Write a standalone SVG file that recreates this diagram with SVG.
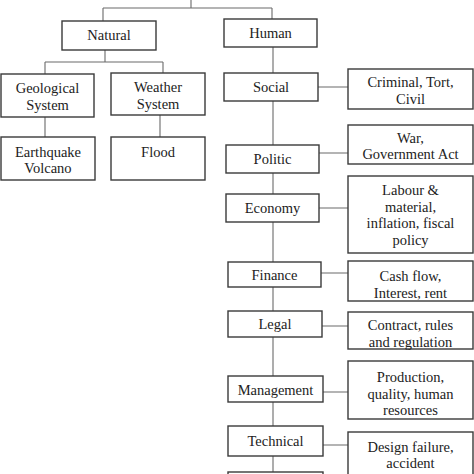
<svg xmlns="http://www.w3.org/2000/svg" width="474" height="474" viewBox="0 0 474 474">
<style>
.b{fill:#fff;stroke:#3a3a3a;stroke-width:1.4}
.c{fill:none;stroke:#6a6a6a;stroke-width:1.1}
text{font-family:"Liberation Serif","Times New Roman",serif;font-size:14.5px;fill:#222;text-anchor:middle}
</style>
<rect width="474" height="474" fill="#fff"/>
<g id="connectors">
<path class="c" d="M191 0V8M103 8H272M103 8V21M272 8V19"/>
<path class="c" d="M105 50V62M45 62H163M45 62V74M163 62V73M45 117V137M160 115V137"/>
<path class="c" d="M273 47V474"/>
<path class="c" d="M318 87H348M319 153H348M319 208H348M321 273H348M322 326H348M323 392H348M323 445H348"/>
</g>
<g id="natural"><rect class="b" x="62" y="21" width="94" height="29"/><text x="109" y="40">Natural</text></g>
<g id="geological"><rect class="b" x="1" y="74" width="93" height="43"/><text x="47.5" y="93">Geological</text><text x="47.5" y="110">System</text></g>
<g id="weather"><rect class="b" x="111" y="73" width="94" height="42"/><text x="158" y="92">Weather</text><text x="158" y="109">System</text></g>
<g id="earthquake"><rect class="b" x="1" y="137" width="94" height="43"/><text x="48" y="157">Earthquake</text><text x="48" y="173">Volcano</text></g>
<g id="flood"><rect class="b" x="111" y="137" width="94" height="43"/><text x="158" y="157">Flood</text></g>
<g id="human"><rect class="b" x="224" y="19" width="93" height="28"/><text x="270.5" y="38">Human</text></g>
<g id="social"><rect class="b" x="224" y="73" width="94" height="28"/><text x="271" y="92">Social</text></g>
<g id="criminal"><rect class="b" x="348" y="69" width="125" height="40"/><text x="410.5" y="87">Criminal, Tort,</text><text x="410.5" y="104">Civil</text></g>
<g id="politic"><rect class="b" x="226" y="145" width="93" height="28"/><text x="272.5" y="164">Politic</text></g>
<g id="war"><rect class="b" x="348" y="125" width="125" height="39"/><text x="410.5" y="143">War,</text><text x="410.5" y="159">Government Act</text></g>
<g id="economy"><rect class="b" x="226" y="194" width="93" height="28"/><text x="272.5" y="213">Economy</text></g>
<g id="labour"><rect class="b" x="348" y="176" width="125" height="77"/><text x="410.5" y="195">Labour &amp;</text><text x="410.5" y="212">material,</text><text x="410.5" y="228">inflation, fiscal</text><text x="410.5" y="245">policy</text></g>
<g id="finance"><rect class="b" x="228" y="262" width="93" height="25"/><text x="274.5" y="280">Finance</text></g>
<g id="cashflow"><rect class="b" x="348" y="261" width="125" height="40"/><text x="410.5" y="281">Cash flow,</text><text x="410.5" y="298">Interest, rent</text></g>
<g id="legal"><rect class="b" x="228" y="311" width="94" height="26"/><text x="275" y="329">Legal</text></g>
<g id="contract"><rect class="b" x="348" y="312" width="125" height="37"/><text x="410.5" y="330">Contract, rules</text><text x="410.5" y="347">and regulation</text></g>
<g id="management"><rect class="b" x="228" y="376" width="95" height="26"/><text x="275.5" y="395">Management</text></g>
<g id="production"><rect class="b" x="348" y="361" width="125" height="58"/><text x="410.5" y="382">Production,</text><text x="410.5" y="399">quality, human</text><text x="410.5" y="415">resources</text></g>
<g id="technical"><rect class="b" x="228" y="426" width="95" height="30"/><text x="275.5" y="446">Technical</text></g>
<g id="design"><rect class="b" x="348" y="432" width="125" height="50"/><text x="410.5" y="452">Design failure,</text><text x="410.5" y="468">accident</text></g>
<g id="next"><rect class="b" x="228" y="472" width="95" height="10"/></g>
</svg>
